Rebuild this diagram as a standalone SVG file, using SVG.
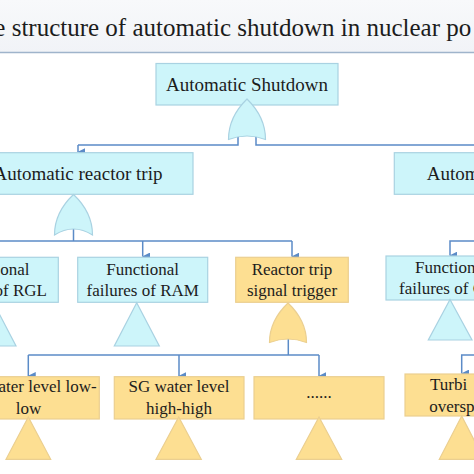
<svg xmlns="http://www.w3.org/2000/svg" width="474" height="474" viewBox="0 0 474 474">
<defs>
<style>
.cy{fill:#cdf5fa;stroke:#a9d2e2;stroke-width:1.2}
.or{fill:#fddf92;stroke:#ebcf90;stroke-width:1.2}
.t{font-family:"Liberation Serif","Times New Roman",serif;fill:#1c1c1c}
.t19{font-size:19px}
.t17{font-size:17px}
.c{text-anchor:middle}
.e{text-anchor:end}
.ln{fill:none;stroke:#5b8bc7;stroke-width:1.5}
.ar{fill:none;stroke:#5b8bc7;stroke-width:1.5;marker-end:url(#ah)}
</style>
<marker id="ah" markerUnits="userSpaceOnUse" markerWidth="8" markerHeight="8" refX="3.5" refY="6.5" orient="auto-start-reverse" viewBox="0 0 7 7">
<path d="M0,0 L7,0 L3.5,7 Z" fill="#5b8bc7"/>
</marker>
<linearGradient id="hdr" x1="0" y1="0" x2="0" y2="1">
<stop offset="0" stop-color="#f8f9fb"/>
<stop offset="1" stop-color="#f1f3f7"/>
</linearGradient>
</defs>
<rect x="0" y="0" width="474" height="474" fill="#ffffff"/>
<g id="title">
<rect x="0" y="0" width="474" height="52.5" fill="url(#hdr)"/>
<line x1="0" y1="52.5" x2="474" y2="52.5" stroke="#9fb4cb" stroke-width="1.5"/>
<text class="t" x="-5.7" y="36" font-size="25">e structure of automatic shutdown in nuclear po</text>
</g>
<g id="connectors">
<path class="ln" d="M238,136 V145 H78"/>
<path class="ar" d="M78,145 V152"/>
<path class="ln" d="M256,136 V145 H476"/>
<path class="ln" d="M73.5,229 V241"/>
<path class="ln" d="M-10,241 H292"/>
<path class="ar" d="M142.7,241 V256.5"/>
<path class="ar" d="M292,241 V256.5"/>
<path class="ar" d="M476,241 H450 V255.5"/>
<path class="ln" d="M288.3,339 V355"/>
<path class="ln" d="M28.3,355 H319"/>
<path class="ar" d="M28.3,355 V376"/>
<path class="ar" d="M179,355 V376"/>
<path class="ar" d="M319,355 V376"/>
<path class="ar" d="M476,355 H461.7 V373.5"/>
</g>
<g id="n-shutdown">
<rect class="cy" x="156" y="63.5" width="182" height="41.5"/>
<text class="t t19 c" x="247" y="91">Automatic Shutdown</text>
<path class="cy" d="M228.5,139.5 C228.5,121.3 238.7,107.1 247,99 C255.3,107.1 265.5,121.3 265.5,139.5 Q247,132.5 228.5,139.5 Z"/>
</g>
<g id="n-reactor-trip">
<rect class="cy" x="-37" y="152.7" width="230" height="41.6"/>
<text class="t t19 c" x="78" y="180">Automatic reactor trip</text>
<path class="cy" d="M54.5,235 C54.5,216.8 64.9,202.6 73.5,194.5 C82.1,202.6 92.5,216.8 92.5,235 Q73.5,223 54.5,235 Z"/>
</g>
<g id="n-autom">
<rect class="cy" x="394.3" y="152.7" width="200" height="41.6"/>
<text class="t t19" x="426.7" y="180">Autom</text>
</g>
<g id="n-rgl">
<rect class="cy" x="-72" y="257.3" width="130.3" height="45"/>
<text class="t t17 e" x="29.5" y="275">onal</text>
<text class="t t17 e" x="47" y="296">of RGL</text>
<path class="cy" d="M-6.5,302.7 L16,346 L-29,346 Z"/>
</g>
<g id="n-ram">
<rect class="cy" x="77.7" y="257.3" width="130" height="45"/>
<text class="t t17 c" x="142.7" y="275">Functional</text>
<text class="t t17 c" x="142.7" y="296">failures of RAM</text>
<path class="cy" d="M136.7,302.7 L159.3,346 L114.3,346 Z"/>
</g>
<g id="n-signal">
<rect class="or" x="235.7" y="257.3" width="112.6" height="45"/>
<text class="t t17 c" x="292" y="275">Reactor trip</text>
<text class="t t17 c" x="292" y="296">signal trigger</text>
<path class="or" d="M269.5,342.5 C269.5,324.7 279.7,310.9 288,303 C296.3,310.9 306.5,324.7 306.5,342.5 Q288,335.5 269.5,342.5 Z"/>
</g>
<g id="n-function-right">
<rect class="cy" x="386" y="256" width="150" height="44"/>
<text class="t t17" x="415" y="273">Function</text>
<text class="t t17" x="399" y="294">failures of C</text>
<path class="cy" d="M450,299.5 L472,340 L428.3,340 Z"/>
</g>
<g id="n-sg-low">
<rect class="or" x="-42.7" y="376.7" width="142" height="42.3"/>
<text class="t t17 e" x="96.7" y="392">ater level low-</text>
<text class="t t17 c" x="28.5" y="413.5">low</text>
<path class="or" d="M28.3,417 L50.7,459.3 L6,459.3 Z"/>
</g>
<g id="n-sg-high">
<rect class="or" x="114.3" y="376.7" width="129.7" height="42.3"/>
<text class="t t17 c" x="179" y="392">SG water level</text>
<text class="t t17 c" x="179" y="413.5">high-high</text>
<path class="or" d="M178.7,417 L201.3,459.3 L156,459.3 Z"/>
</g>
<g id="n-more">
<rect class="or" x="254" y="376.7" width="130" height="42.3"/>
<text class="t t17 c" x="319" y="398">......</text>
<path class="or" d="M319,417 L341.7,459.3 L296.3,459.3 Z"/>
</g>
<g id="n-turbine">
<rect class="or" x="405" y="374" width="140" height="42"/>
<text class="t t17" x="430" y="390">Turbi</text>
<text class="t t17" x="429.3" y="411.7">oversp</text>
<path class="or" d="M461.7,416 L484,459.3 L439.3,459.3 Z"/>
</g>
</svg>
